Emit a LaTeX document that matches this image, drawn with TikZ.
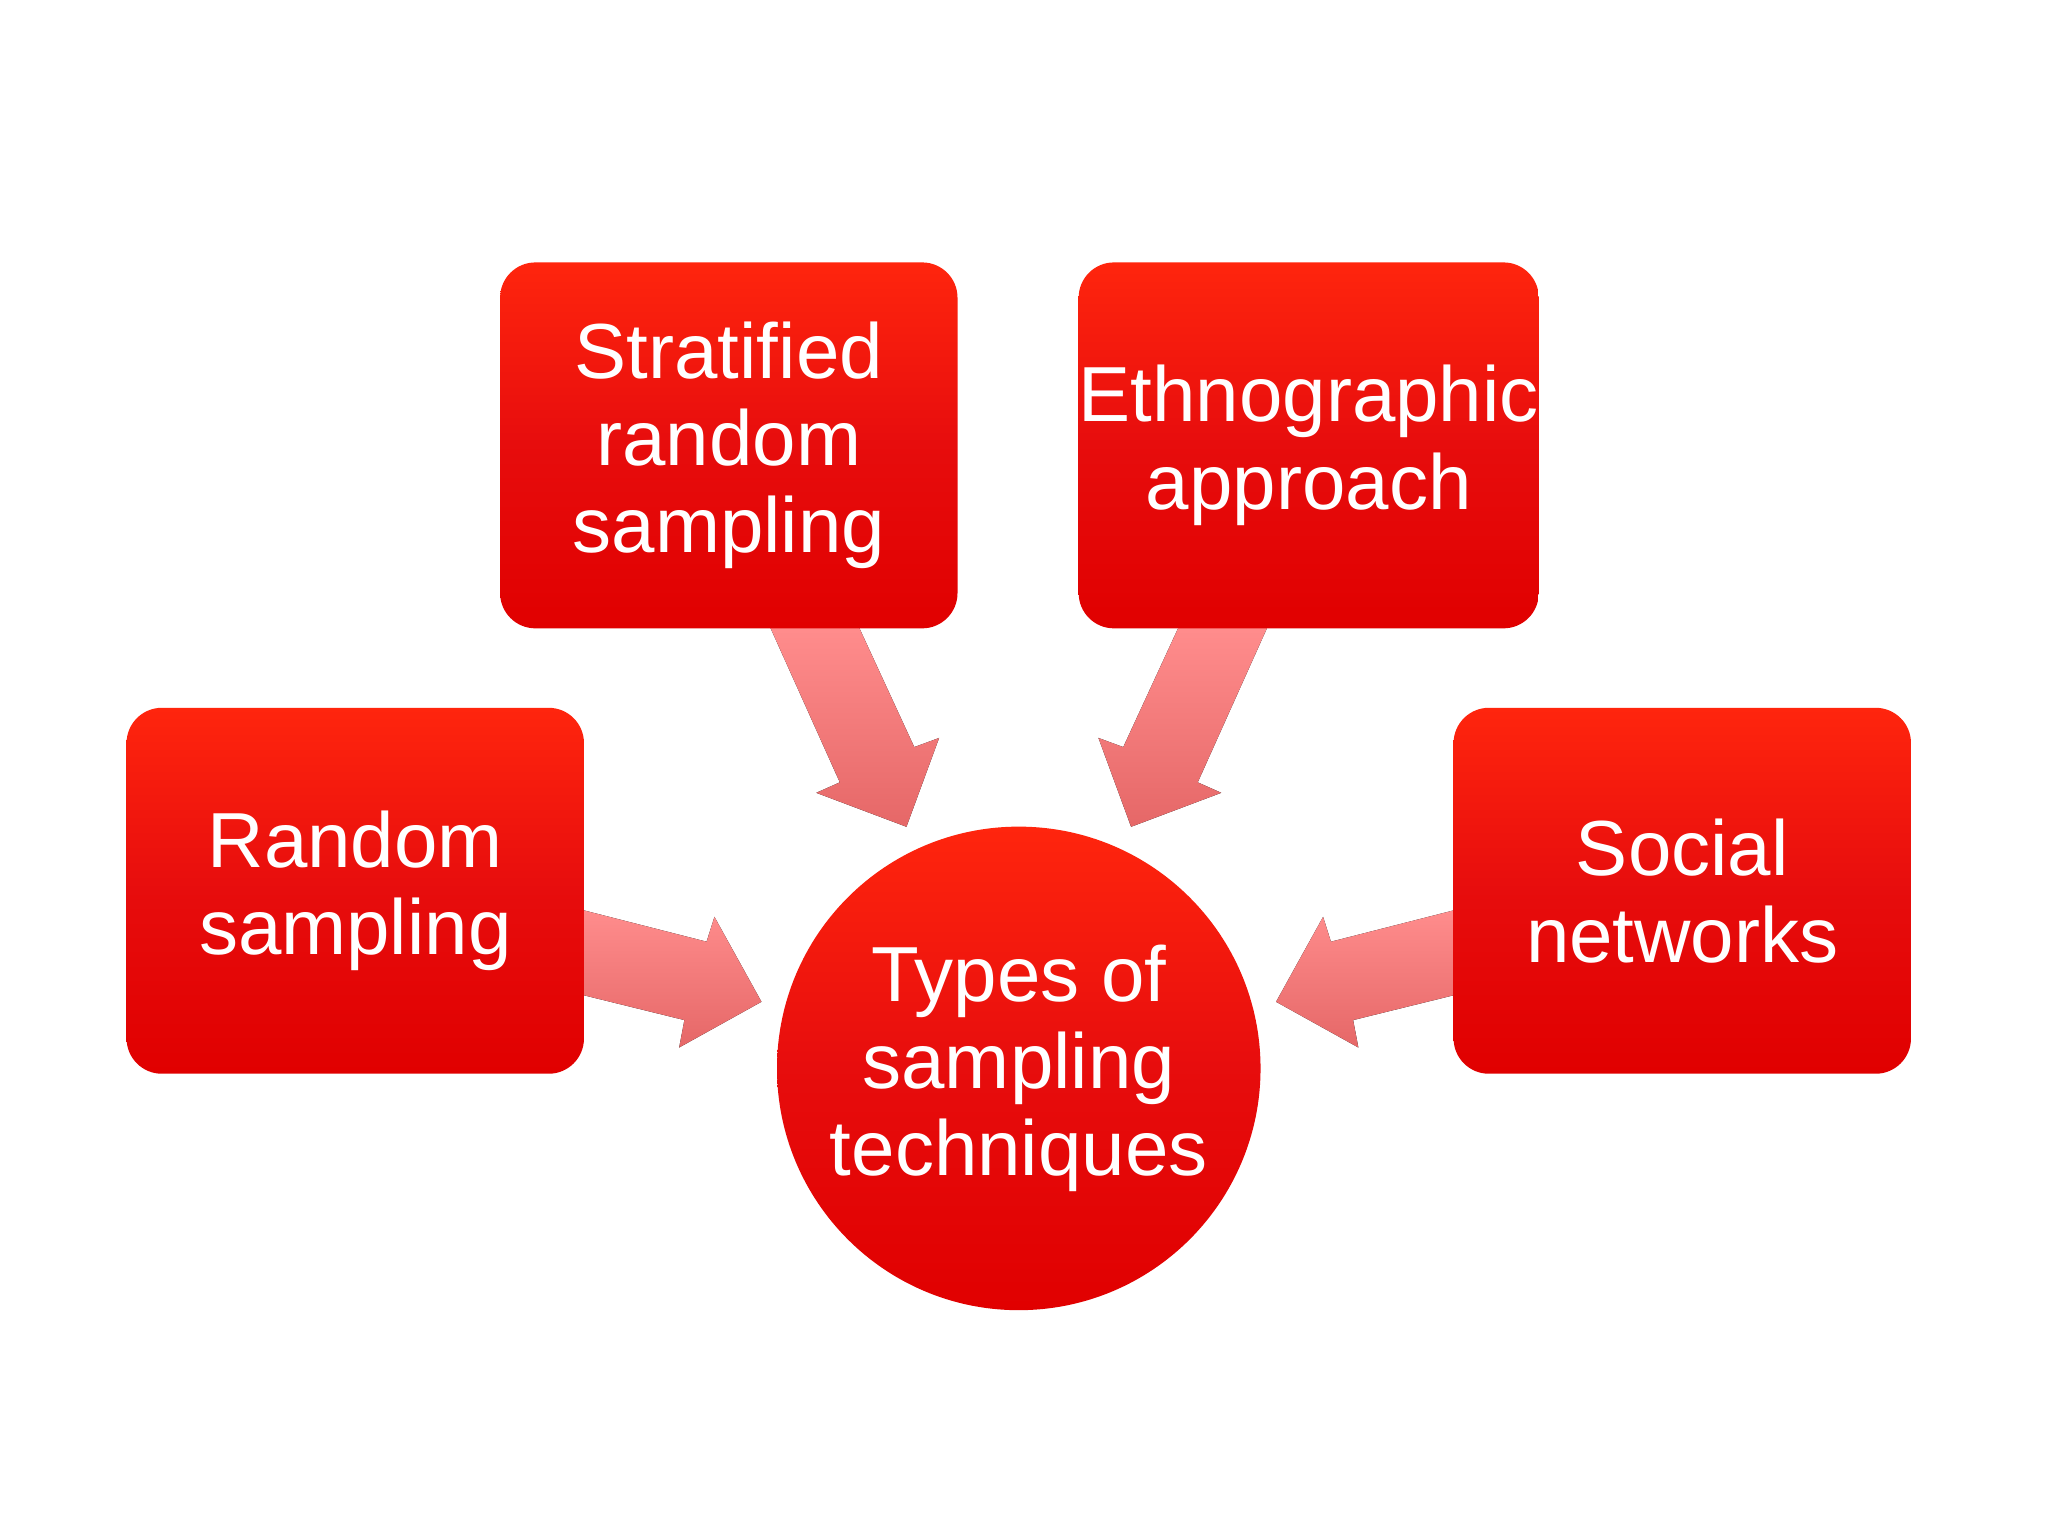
\documentclass[tikz,border=0pt]{standalone}
\usepackage{fontspec}
\setmainfont{Liberation Sans}
\begin{document}
\begin{tikzpicture}[x=0.01cm,y=-0.01cm,
 box/.style={draw=none,rounded corners=0.27cm,minimum width=3.5cm,minimum height=2.8cm,top color=red!80!orange!95!white,bottom color=red!88!black,middle color=red!90!black!95!white,align=center,text=white,font=\fontsize{17}{19}\selectfont,inner sep=0pt},
 arr/.style={top color=red!45!white,bottom color=red!55!white!90!black,draw=none}]
\useasboundingbox (0,0) rectangle (1568,1176);
\fill[white] (0,0) rectangle (1568,1176);
\fill[arr] (590,481)--(658,481)--(700,572)--(719,565)--(694,633)--(625,607)--(643,599)--cycle;
\fill[arr] (970,481)--(902,481)--(860,572)--(841,565)--(866,633)--(935,607)--(917,599)--cycle;
\fill[arr] (447,697)--(541,721)--(547,702)--(583,767)--(520,802)--(524,781)--(447,762)--cycle;
\fill[arr] (1113,697)--(1019,721)--(1013,702)--(977,767)--(1040,802)--(1036,781)--(1113,762)--cycle;
\node[box] (s) at (558,341) {Stratified\\random\\sampling};
\node[box] (e) at (1002,341) {Ethnographic\\approach};
\node[box] (r) at (272,682) {Random\\sampling};
\node[box] (n) at (1288,682) {Social\\networks};
\node[box,circle,rounded corners=0,minimum size=3.7cm] (c) at (780,818) {Types of\\sampling\\techniques};
\end{tikzpicture}
\end{document}
